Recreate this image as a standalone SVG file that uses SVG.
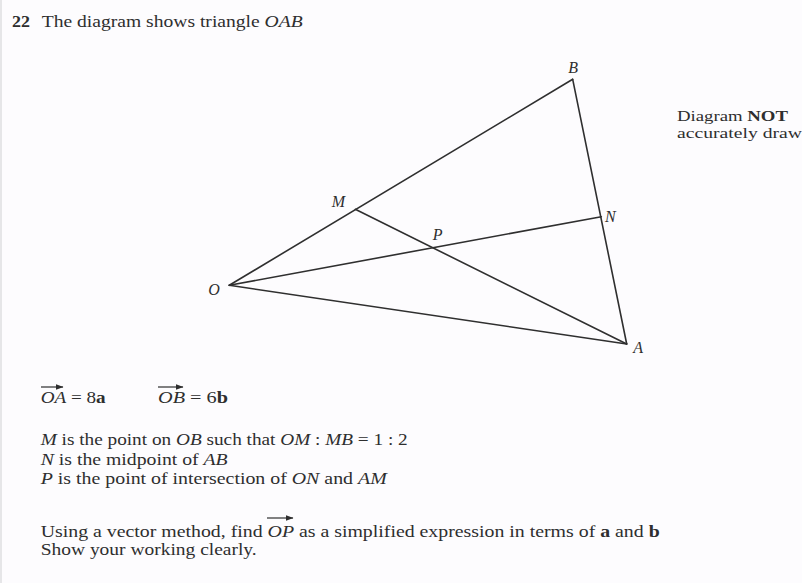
<svg xmlns="http://www.w3.org/2000/svg" width="802" height="583" viewBox="0 0 802 583">
  <defs>
    <style>
      .t { font-family: "Liberation Serif", "Times New Roman", serif; font-size: 17px; fill: #2e2e2e; }
      .s { font-size: 16px; }
      .n { font-size: 14.5px; }
      .lbl { font-family: "Liberation Serif", "Times New Roman", serif; font-size: 16px; font-style: italic; fill: #2e2e2e; }
      .i { font-style: italic; }
      .b { font-weight: bold; }
      .edge { stroke: #2f2f2f; stroke-width: 1.6; fill: none; stroke-linecap: round; }
      .vec { stroke: #2e2e2e; stroke-width: 1.2; fill: none; }
    </style>
    <marker id="vh" viewBox="0 0 8 6" refX="7.5" refY="3" markerWidth="8" markerHeight="6" markerUnits="userSpaceOnUse" orient="auto">
      <path d="M0,0 L8,3 L0,6 Z" fill="#2e2e2e"/>
    </marker>
  </defs>
  <rect x="0" y="0" width="802" height="583" fill="#fdfcfe"/>
  <line x1="1" y1="0" x2="1" y2="583" stroke="#e6e6e8" stroke-width="2"/>

  <!-- Title -->
  <g id="title">
    <text class="t b" x="12" y="26.5" textLength="18" lengthAdjust="spacingAndGlyphs">22</text>
    <text class="t" x="41.7" y="26.5" textLength="261" lengthAdjust="spacingAndGlyphs">The diagram shows triangle <tspan class="i">OAB</tspan></text>
  </g>

  <!-- Connectors: triangle edges and cevians -->
  <g id="connectors">
    <line class="edge" x1="229.3" y1="285.3" x2="572.7" y2="79.3"/>
    <line class="edge" x1="572.7" y1="79.3" x2="626.7" y2="344"/>
    <line class="edge" x1="229.3" y1="285.3" x2="626.7" y2="344"/>
    <line class="edge" x1="355.3" y1="209.3" x2="626.7" y2="344"/>
    <line class="edge" x1="229.3" y1="285.3" x2="601.3" y2="216.7"/>
  </g>

  <!-- Points -->
  <g id="node-O"><text class="lbl" x="208.3" y="295">O</text></g>
  <g id="node-A"><text class="lbl" x="633.3" y="353.3">A</text></g>
  <g id="node-B"><text class="lbl" x="568.3" y="72.7">B</text></g>
  <g id="node-M"><text class="lbl" x="331.7" y="207.3">M</text></g>
  <g id="node-N"><text class="lbl" x="605" y="221.7">N</text></g>
  <g id="node-P"><text class="lbl" x="432.7" y="240">P</text></g>

  <!-- Note -->
  <g id="note">
    <text class="t n" x="677" y="120.5" textLength="111" lengthAdjust="spacingAndGlyphs">Diagram <tspan class="b">NOT</tspan></text>
    <text class="t n" x="677" y="137.5" textLength="125" lengthAdjust="spacingAndGlyphs">accurately draw</text>
  </g>

  <!-- Vectors -->
  <g id="vectors">
    <line class="vec" x1="41" y1="387" x2="63" y2="387" marker-end="url(#vh)"/>
    <text class="t" x="40.7" y="403" textLength="65" lengthAdjust="spacingAndGlyphs"><tspan class="i">OA</tspan> = 8<tspan class="b">a</tspan></text>
    <line class="vec" x1="158" y1="387" x2="183" y2="387" marker-end="url(#vh)"/>
    <text class="t" x="158" y="403" textLength="70" lengthAdjust="spacingAndGlyphs"><tspan class="i">OB</tspan> = 6<tspan class="b">b</tspan></text>
  </g>

  <!-- Statements -->
  <g id="statements">
    <text class="t" x="40.7" y="445" textLength="367" lengthAdjust="spacingAndGlyphs"><tspan class="i">M</tspan> is the point on <tspan class="i">OB</tspan> such that <tspan class="i">OM</tspan> : <tspan class="i">MB</tspan> = 1 : 2</text>
    <text class="t" x="40.7" y="465" textLength="187" lengthAdjust="spacingAndGlyphs"><tspan class="i">N</tspan> is the midpoint of <tspan class="i">AB</tspan></text>
    <text class="t" x="40.7" y="484" textLength="346" lengthAdjust="spacingAndGlyphs"><tspan class="i">P</tspan> is the point of intersection of <tspan class="i">ON</tspan> and <tspan class="i">AM</tspan></text>
  </g>

  <!-- Question -->
  <g id="question">
    <line class="vec" x1="267" y1="518" x2="293" y2="518" marker-end="url(#vh)"/>
    <text class="t s" x="40.7" y="537" textLength="619" lengthAdjust="spacingAndGlyphs">Using a vector method, find <tspan class="i">OP</tspan> as a simplified expression in terms of <tspan class="b">a</tspan> and <tspan class="b">b</tspan></text>
    <text class="t s" x="40.7" y="555" textLength="216" lengthAdjust="spacingAndGlyphs">Show your working clearly.</text>
  </g>
</svg>
